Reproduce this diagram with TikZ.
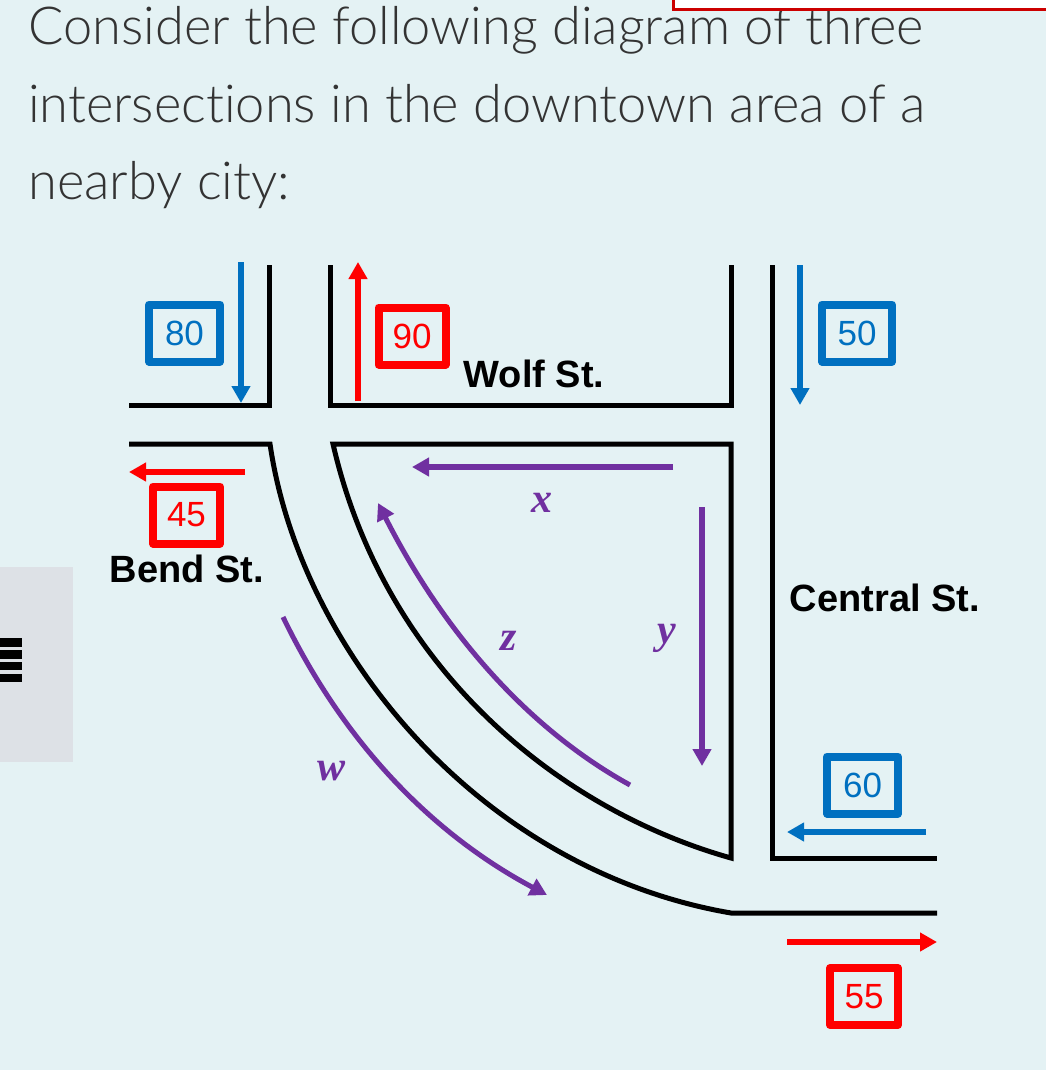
\documentclass[tikz,border=0pt]{standalone}
\usepackage{fontspec}
\setmainfont{Liberation Sans}
\newfontfamily\lightfont[Ligatures=NoCommon]{Lato Light}
\newfontfamily\varfont{Liberation Serif}
\usetikzlibrary{arrows.meta}
\definecolor{pagebg}{HTML}{E4F2F4}
\definecolor{panelgrey}{HTML}{DDE1E6}
\definecolor{flowblue}{HTML}{0070C0}
\definecolor{flowpurple}{HTML}{7030A0}
\definecolor{bodygrey}{HTML}{333333}
\definecolor{framered}{HTML}{CC0000}
\tikzset{
  street/.style={draw=black,line width=5pt,line cap=butt,line join=miter},
  flow/.style={line width=5.5pt,-{Triangle[length=17pt,width=18pt]}},
  sign/.style={draw,line width=8pt,line join=round,inner sep=0pt,minimum height=57pt,font=\fontsize{35}{35}\selectfont},
}
\begin{document}
\begin{tikzpicture}[x=1pt,y=-1pt]

      \useasboundingbox (0,0) rectangle (1046,1070);
      \fill[pagebg] (0,0) rectangle (1046,1070);
      \fill[panelgrey] (0,567) rectangle (73,762);
      \fill[black] (0,638) rectangle (22,646.5);
      \fill[black] (0,650) rectangle (22,658.5);
      \fill[black] (0,662) rectangle (22,670);
      \fill[black] (0,674) rectangle (22,682);

      \begin{scope}[every node/.style={anchor=base west, inner sep=0pt, text=bodygrey, font=\lightfont\fontsize{52.4}{52.4}\selectfont}]
        \node (line1) at (28,45)  {Consider the following diagram of three};
        \node (line2) at (28,122) {intersections in the downtown area of a};
        \node (line3) at (28,199) {nearby city:};
      \end{scope}

      \fill[framered] (672,0) rectangle (1046,11.5);
      \fill[white] (675,0) rectangle (1046,8.5);

      % street corners
      \coordinate (a1) at (129,405);
      \coordinate (a2) at (269,405);
      \coordinate (a3) at (269,265);
      \coordinate (b1) at (330,265);
      \coordinate (b2) at (330,405);
      \coordinate (b3) at (731,405);
      \coordinate (b4) at (731,265);
      \coordinate (c1) at (772,265);
      \coordinate (c2) at (772,858);
      \coordinate (c3) at (937,858);
      \coordinate (d1) at (129,444);
      \coordinate (d2) at (270,444);
      \coordinate (d3) at (731,913);
      \coordinate (d4) at (937,913);
      \coordinate (e1) at (333,444);
      \coordinate (e2) at (731,444);
      \coordinate (e3) at (731,858);

      \draw[street] (a1) -- (a2) -- (a3);
      \draw[street] (b1) -- (b2) -- (b3) -- (b4);
      \draw[street] (c1) -- (c2) -- (c3);
      \draw[street] (d1) -- (d2) .. controls (300,650) and (480,870) .. (d3) -- (d4);
      \draw[street] (e1) -- (e2) -- (e3) .. controls (560,810) and (385,670) .. cycle;

      % flow ends
      \coordinate (f80a) at (241,262);
      \coordinate (f80b) at (241,403);
      \coordinate (f90a) at (358,401);
      \coordinate (f90b) at (358,262);
      \coordinate (f50a) at (800,265);
      \coordinate (f50b) at (800,405);
      \coordinate (f45a) at (245,472);
      \coordinate (f45b) at (129,472);
      \coordinate (f60a) at (926,832);
      \coordinate (f60b) at (787,832);
      \coordinate (f55a) at (787,942);
      \coordinate (f55b) at (937,942);
      \coordinate (fxa) at (673,467);
      \coordinate (fxb) at (412,467);
      \coordinate (fya) at (702,507);
      \coordinate (fyb) at (702,766);
      \coordinate (fza) at (630,785);
      \coordinate (fzb) at (378,503);
      \coordinate (fwa) at (283,617);
      \coordinate (fwb) at (547,895);

      \draw[flow,flowblue] (f80a) -- (f80b);
      \draw[flow,red] (f90a) -- (f90b);
      \draw[flow,flowblue] (f50a) -- (f50b);
      \draw[flow,red] (f45a) -- (f45b);
      \draw[flow,flowblue] (f60a) -- (f60b);
      \draw[flow,red] (f55a) -- (f55b);
      \draw[flow,flowpurple] (fxa) -- (fxb);
      \draw[flow,flowpurple] (fya) -- (fyb);
      \draw[flow,flowpurple,line width=5pt] (fza) .. controls (530,730) and (445,635) .. (fzb);
      \draw[flow,flowpurple,line width=5pt] (fwa) .. controls (340,735) and (425,830) .. (fwb);

      \begin{scope}[every node/.style={sign}]
        \node[flowblue,text=flowblue,minimum width=71pt] (s80) at (184.5,333) {80};
        \node[red,text=red,minimum width=67pt] (s90) at (412,336) {90};
        \node[flowblue,text=flowblue,minimum width=70pt] (s50) at (857,333) {50};
        \node[red,text=red,minimum width=67pt] (s45) at (186.5,515) {45};
        \node[flowblue,text=flowblue,minimum width=71pt] (s60) at (862.5,785) {60};
        \node[red,text=red,minimum width=68pt] (s55) at (864,996.5) {55};
      \end{scope}

      \begin{scope}[every node/.style={inner sep=0pt, font=\bfseries\fontsize{38}{38}\selectfont}]
        \node (wolf) at (534,374) {Wolf St.};
        \node (bend) at (187,569) {Bend St.};
        \node (central) at (885,598) {Central St.};
      \end{scope}

      \begin{scope}[every node/.style={anchor=base, inner sep=0pt, text=flowpurple, font=\varfont\bfseries\itshape\fontsize{42}{42}\selectfont}]
        \node (x) at (542,512) {x};
        \node (y) at (667,643) {y};
        \node (z) at (509,650) {z};
        \node (w) at (332,780) {w};
      \end{scope}

    \end{tikzpicture}
\end{document}
